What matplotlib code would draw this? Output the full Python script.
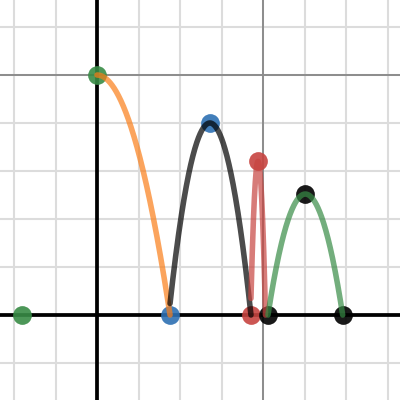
import numpy as np
import matplotlib
matplotlib.use("Agg")
import matplotlib.pyplot as plt

# bounce points (x, y)
pt_x = [0.0, -0.9, 0.88, 1.36, 1.855, 1.94, 2.06, 2.51, 2.96]
pt_y = [5.0, 0.0, 0.0, 4.0, 0.0, 3.2, 0.0, 2.52, 0.0]
pt_col = ["#388c46", "#388c46", "#2d70b3", "#2d70b3", "#c74440", "#c74440",
          "#000000", "#000000", "#000000"]

# arcs: (start x, end x, peak x, peak y)
arc_start = [0.0, 0.88, 1.855, 2.06]
arc_end = [0.88, 1.855, 2.03, 2.96]
arc_peak_x = [0.0, 1.36, 1.94, 2.51]
arc_peak_y = [5.0, 4.0, 3.2, 2.52]
arc_col = ["#fa7e19", "#000000", "#c74440", "#388c46"]

fig = plt.figure(figsize=(4, 4), dpi=100)
ax = fig.add_axes([0, 0, 1, 1])
xmin, xmax = -97 / 83, 303 / 83
ymin, ymax = -85 / 48, 315 / 48
ax.set_xlim(xmin, xmax)
ax.set_ylim(ymin, ymax)
ax.axis("off")

# grid
for gx in np.arange(-1.0, 3.6, 0.5):
    ax.axvline(gx, color="#dcdcdc", lw=1.5, zorder=0)
for gy in np.arange(-1, 7, 1):
    ax.axhline(gy, color="#dcdcdc", lw=1.5, zorder=0)
ax.axvline(2, color="#8c8c8c", lw=1.4, zorder=1)
ax.axhline(5, color="#8c8c8c", lw=1.4, zorder=1)
ax.axvline(0, color="black", lw=2.7, zorder=2)
ax.axhline(0, color="black", lw=2.7, zorder=2)

# points
for x, y, c in zip(pt_x, pt_y, pt_col):
    ax.plot(x, y, "o", ms=13.5, color=c, alpha=0.9, mec="none", zorder=3)

# arcs
for s, e, px, py, c in zip(arc_start, arc_end, arc_peak_x, arc_peak_y, arc_col):
    xs = np.linspace(s, e, 200)
    half = max(px - s, e - px)
    ys = py * (1 - ((xs - px) / half) ** 2)
    ax.plot(xs, ys, color=c, lw=4, alpha=0.7, solid_capstyle="round", zorder=4)

fig.savefig("out.png", dpi=100)
